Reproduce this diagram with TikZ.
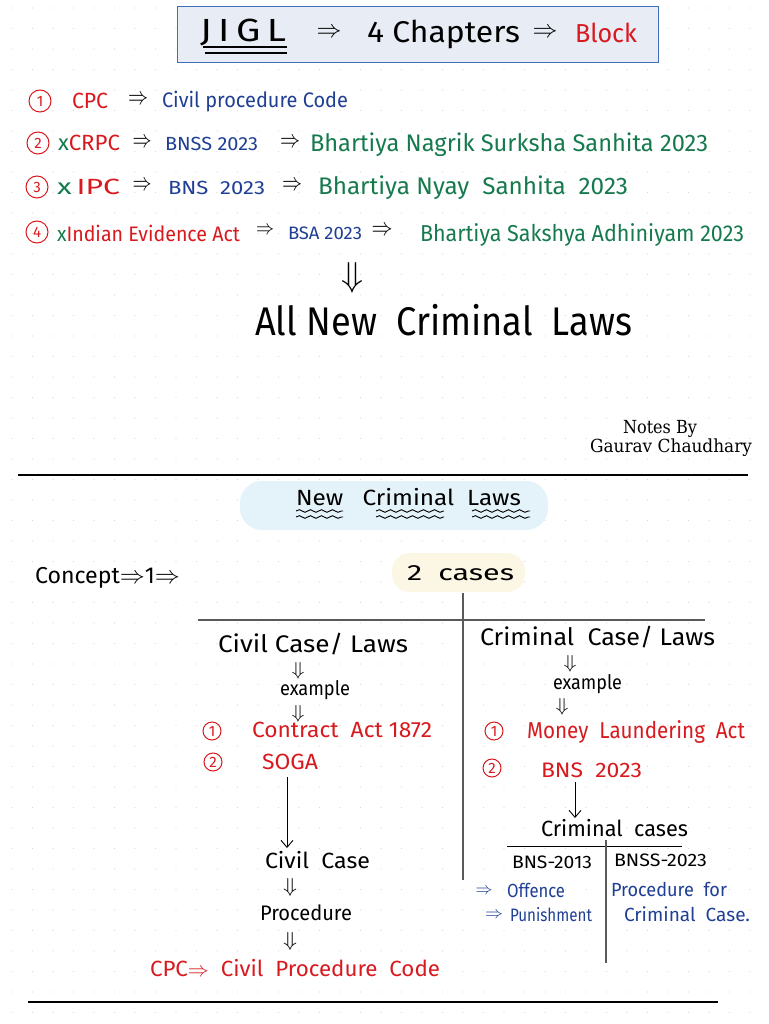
\documentclass[tikz,border=0pt]{standalone}
\usepackage{fontspec}
\setmainfont{Fira Sans}
\newfontfamily\notesfont{DejaVu Serif}
\usepackage{graphicx}
\usetikzlibrary{decorations.pathmorphing,arrows.meta}
\definecolor{hred}{HTML}{D8191E}
\definecolor{hblue}{HTML}{1F3F94}
\definecolor{hgreen}{HTML}{177A4E}
\definecolor{lgray}{HTML}{5A5A5A}
\definecolor{boxfill}{HTML}{E8EDF5}
\definecolor{boxline}{HTML}{3F6FB8}
\definecolor{blobblue}{HTML}{E4F2FA}
\definecolor{blobyel}{HTML}{FBF7E4}
\newcommand\fs[1]{\fontsize{#1}{#1}\selectfont}
\newcommand\fitw[2]{\resizebox{#1pt}{\height}{#2}}
\newcommand\darr[2]{\resizebox{#1pt}{#2pt}{$\Downarrow$}}
\tikzset{
  t/.style={anchor=base west, inner sep=0pt, outer sep=0pt},
  c/.style={anchor=center, inner sep=0pt, outer sep=0pt},
  circ/.style={circle, draw=hred, text=hred, line width=1pt, minimum size=#1, inner sep=0pt, font=\fs{15}},
  circ/.default=22pt,
  rule/.style={line width=1.1pt, black},
  treeline/.style={line width=1.6pt, lgray},
  wave/.style={decorate, decoration={snake, amplitude=1.3pt, segment length=11pt}, line width=0.9pt},
  arr/.style={line width=0.9pt, -{Straight Barb[length=7pt,width=12pt]}}
}
\begin{document}
\begin{tikzpicture}[x=1pt,y=-1pt]
\useasboundingbox (0,0) rectangle (768,1024);
\fill[white] (0,0) rectangle (768,1024);
% dot grid
\foreach \i in {0,...,37}{\foreach \j in {0,...,50}{\fill[gray!30] (12+20.5*\i,8+20.5*\j) circle (0.7pt);}}
% title
\node[draw=boxline, fill=boxfill, line width=1pt, minimum width=481pt, minimum height=56pt, inner sep=0pt] (titlebox) at (417.5,35) {};
\node[t, font=\fs{32}] (jigl) at (200,42) {\fitw{86}{J\,I\,G\,L}};
\draw[line width=1.1pt] (203,47) -- (287,47);
\draw[line width=1.1pt] (205,53) -- (287,53);
\node[c, font=\fs{30}] (ta1) at (329,33) {\fitw{25}{$\Rightarrow$}};
\node[t, font=\fs{30}] (chap) at (367,43) {\fitw{153}{4\ Chapters}};
\node[c, font=\fs{30}] (ta2) at (545,33) {\fitw{25}{$\Rightarrow$}};
\node[t, font=\fs{26}, text=hred] (block) at (575,43) {\fitw{62}{Block}};
% line 1
\node[circ] (n1) at (40,101) {1};
\node[t, font=\fs{22}, text=hred] (cpc) at (72,109) {\fitw{36}{CPC}};
\node[c, font=\fs{23}] (a11) at (138,100) {\fitw{20}{$\Rightarrow$}};
\node[t, font=\fs{21}, text=hblue] (cpcfull) at (162,108) {\fitw{186}{Civil procedure Code}};
% line 2
\node[circ] (n2) at (38,143) {2};
\node[t, font=\fs{22}, text=hred] (crpc) at (58,151) {\fitw{62}{{\color{hgreen}x}CRPC}};
\node[c, font=\fs{23}] (a21) at (142,143) {\fitw{19}{$\Rightarrow$}};
\node[t, font=\fs{19}, text=hblue] (bnss) at (165,151) {\fitw{93}{BNSS 2023}};
\node[c, font=\fs{23}] (a22) at (290,143) {\fitw{20}{$\Rightarrow$}};
\node[t, font=\fs{24}, text=hgreen] (bnssfull) at (310,152) {\fitw{398}{Bhartiya Nagrik Surksha Sanhita 2023}};
% line 3
\node[circ] (n3) at (37,187) {3};
\node[t, font=\fs{22}, text=hred] (ipc) at (57,195) {\fitw{63}{{\color{hgreen}x}\,IPC}};
\node[c, font=\fs{23}] (a31) at (142,186) {\fitw{19}{$\Rightarrow$}};
\node[t, font=\fs{19}, text=hblue] (bns) at (168,194) {\fitw{97}{BNS\ \ 2023}};
\node[c, font=\fs{23}] (a32) at (292,186) {\fitw{20}{$\Rightarrow$}};
\node[t, font=\fs{24}, text=hgreen] (bnsfull) at (318,195) {\fitw{310}{Bhartiya Nyay\ \ Sanhita\ \ 2023}};
% line 4
\node[circ] (n4) at (37,232) {4};
\node[t, font=\fs{21}, text=hred] (iea) at (57,241) {\fitw{183}{{\color{hgreen}x}Indian Evidence Act}};
\node[c, font=\fs{21}] (a41) at (265,231) {\fitw{18}{$\Rightarrow$}};
\node[t, font=\fs{18}, text=hblue] (bsa) at (288,240) {\fitw{74}{BSA 2023}};
\node[c, font=\fs{24}] (a42) at (382,231) {\fitw{21}{$\Rightarrow$}};
\node[t, font=\fs{23}, text=hgreen] (bsafull) at (420,242) {\fitw{324}{Bhartiya Sakshya Adhiniyam 2023}};
% all new criminal laws
\node[c] (dd0) at (352,278) {\darr{22}{24}};
\node[t, font=\fs{40}] (allnew) at (255,335) {\fitw{377}{All New\ \ Criminal\ \ Laws}};
% notes by
\node[t, font=\notesfont\fs{18}] (notes1) at (623,433) {\fitw{74}{Notes By}};
\node[t, font=\notesfont\fs{18}] (notes2) at (590,452) {\fitw{162}{Gaurav Chaudhary}};
\draw[rule] (18,475) -- (748,475);
% New criminal laws heading
\fill[blobblue, rounded corners=22pt] (240,481) rectangle (548,530);
\node[t, font=\fs{22}] (ncl) at (296,505) {\fitw{225}{New\ \ \ Criminal\ \ Laws}};
\foreach \a/\b in {296/343,376/444,472/530}{
  \draw[wave] (\a,511) -- (\b,511);
  \draw[wave] (\a,517) -- (\b,517);
}
% concept
\node[t, font=\fs{23}] (concept) at (35,583) {\fitw{145}{Concept$\Rightarrow$1$\Rightarrow$}};
\fill[blobyel, rounded corners=18pt] (392,553) rectangle (525,592);
\node[t, font=\fs{22}] (twocases) at (407,580) {\fitw{107}{2\ \ cases}};
% tree
\coordinate (vtop) at (463,593);
\coordinate (vbot) at (463,880);
\coordinate (hl) at (198,620);
\coordinate (hr) at (705,620);
\draw[treeline] (vtop) -- (vbot);
\draw[treeline] (hl) -- (hr);
% left branch
\node[t, font=\fs{24}] (civil) at (218,652) {\fitw{190}{Civil Case/ Laws}};
\node[c] (dl1) at (298,671) {\darr{13}{13}};
\node[t, font=\fs{20}] (exl) at (280,695) {\fitw{70}{example}};
\node[c] (dl2) at (298,714) {\darr{13}{13}};
\node[circ=18pt] (l1) at (212,731) {1};
\node[t, font=\fs{22}, text=hred] (contract) at (252,737) {\fitw{180}{Contract\ \ Act\ 1872}};
\node[circ=18pt] (l2) at (213,762) {2};
\node[t, font=\fs{22}, text=hred] (soga) at (262,769) {\fitw{56}{SOGA}};
\coordinate (s1) at (287,777);
\coordinate (e1) at (287,848);
\draw[arr] (s1) -- (e1);
\node[t, font=\fs{22}] (civilcase) at (265,868) {\fitw{105}{Civil\ \ Case}};
\node[c] (dl3) at (290,887) {\darr{14}{14}};
\node[t, font=\fs{21}] (proc) at (260,920) {\fitw{92}{Procedure}};
\node[c] (dl4) at (290,941) {\darr{14}{14}};
\node[t, font=\fs{22}, text=hred] (cpcbottom) at (150,976) {\fitw{290}{CPC$\Rightarrow$\ \ Civil\ \ Procedure\ \ Code}};
% right branch
\node[t, font=\fs{24}] (criminal) at (480,645) {\fitw{235}{Criminal\ \ Case/ Laws}};
\node[c] (dr1) at (570,664) {\darr{13}{13}};
\node[t, font=\fs{20}] (exr) at (553,689) {\fitw{69}{example}};
\node[c] (dr2) at (562,707) {\darr{13}{13}};
\node[circ=18pt] (r1) at (494,731) {1};
\node[t, font=\fs{23}, text=hred] (money) at (527,738) {\fitw{218}{Money\ \ Laundering\ \ Act}};
\node[circ=18pt] (r2) at (492,768) {2};
\node[t, font=\fs{21}, text=hred] (bnsr) at (541,777) {\fitw{101}{BNS\ \ 2023}};
\coordinate (s2) at (575,782);
\coordinate (e2) at (575,818);
\draw[arr] (s2) -- (e2);
\node[t, font=\fs{22}] (crcases) at (541,836) {\fitw{147}{Criminal\ \ cases}};
\coordinate (hl2) at (507,846);
\coordinate (hr2) at (682,846);
\coordinate (vt2) at (606,840);
\coordinate (vb2) at (606,963);
\draw[line width=1pt] (hl2) -- (hr2);
\draw[treeline] (vt2) -- (vb2);
\node[t, font=\fs{18}] (bns13) at (512,868) {\fitw{80}{BNS-2013}};
\node[t, font=\fs{18}] (bnss23) at (614,866) {\fitw{93}{BNSS-2023}};
\node[c, font=\fs{19}, text=hblue] (oa) at (484,891) {\fitw{17}{$\Rightarrow$}};
\node[t, font=\fs{19}, text=hblue] (offence) at (507,897) {\fitw{58}{Offence}};
\node[c, font=\fs{19}, text=hblue] (pa) at (494,915) {\fitw{18}{$\Rightarrow$}};
\node[t, font=\fs{18}, text=hblue] (punish) at (510,921) {\fitw{82}{Punishment}};
\node[t, font=\fs{19}, text=hblue] (procfor) at (611,896) {\fitw{116}{Procedure\ \ for}};
\node[t, font=\fs{19}, text=hblue] (crcase) at (624,921) {\fitw{126}{Criminal\ \ Case.}};
\draw[rule] (28,1002) -- (718,1002);
\end{tikzpicture}
\end{document}
